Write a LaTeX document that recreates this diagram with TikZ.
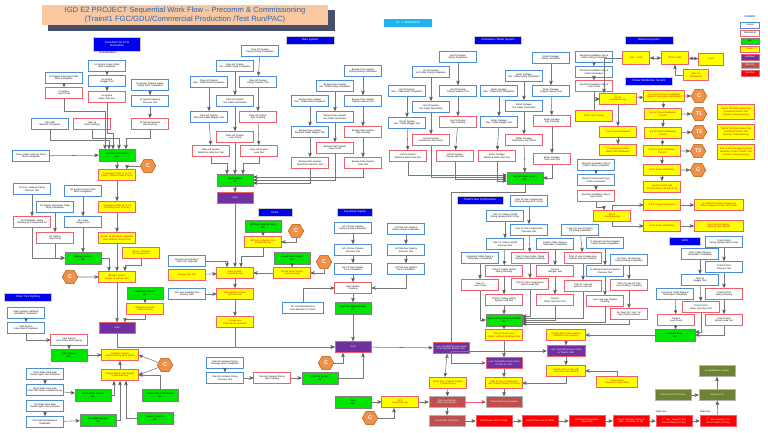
\documentclass[tikz,border=0pt]{standalone}
\usepackage{fontspec}
\setmainfont{Liberation Sans}
\usetikzlibrary{arrows,shapes.geometric}

\definecolor{bluline}{RGB}{79,140,210}
\definecolor{redline}{RGB}{236,96,110}
\definecolor{mcgreen}{RGB}{0,230,0}
\definecolor{commyel}{RGB}{255,255,0}
\definecolor{holdpur}{RGB}{112,48,160}
\definecolor{startbrn}{RGB}{192,80,77}
\definecolor{testred}{RGB}{255,0,0}
\definecolor{pacolv}{RGB}{110,130,50}
\definecolor{hdrblue}{RGB}{0,0,235}
\definecolor{hexorg}{RGB}{240,145,75}
\definecolor{titlepch}{RGB}{250,200,160}
\definecolor{titletxt}{RGB}{40,100,180}
\definecolor{shadowgy}{RGB}{70,80,110}
\definecolor{tscyan}{RGB}{30,180,240}
\definecolor{edgegray}{RGB}{120,120,120}

\tikzset{
  box/.style={rectangle, text width=35pt, align=center, inner sep=0.6pt,
    minimum height=11.5pt, font=\fontsize{2.3}{2.8}\selectfont},
  blu/.style={box, draw=bluline, line width=0.9pt, fill=white},
  rdb/.style={box, draw=redline, line width=0.9pt, fill=white},
  grn/.style={box, draw=gray, line width=0.5pt, fill=mcgreen},
  yel/.style={box, draw=redline, line width=0.9pt, fill=commyel, text=red!80!black},
  pur/.style={box, draw=redline, line width=0.6pt, fill=holdpur, text=white},
  brn/.style={box, draw=gray!60, line width=0.6pt, fill=startbrn, text=white},
  tst/.style={box, draw=redline, line width=0.6pt, fill=testred, text=white},
  olv/.style={box, draw=gray!60, line width=0.6pt, fill=pacolv, text=white},
  hdr/.style={rectangle, fill=hdrblue, draw=gray!40, text=white, minimum height=8pt,
    inner sep=0.5pt, font=\fontsize{2.8}{3.3}\selectfont, align=center},
  hx/.style={regular polygon, regular polygon sides=6, minimum size=15.5pt, inner sep=0pt,
    fill=hexorg, draw=orange!70!black, line width=0.5pt, text=white,
    font=\fontsize{5.5}{5.5}\selectfont\bfseries},
  cn/.style={->, draw=edgegray, line width=0.55pt},
  vh/.style={to path={|- (\tikztotarget) \tikztonodes}},
  hv/.style={to path={-| (\tikztotarget) \tikztonodes}},
  dn/.style={to path={-- ([yshift=-#1]\tikztostart.south) -| (\tikztotarget) \tikztonodes}},
  dn/.default=6pt,
}

\begin{document}
\begin{tikzpicture}[x=1pt,y=-1pt,>=stealth']
\useasboundingbox (0,0) rectangle (768,433);

% title
\fill[shadowgy] (48,10) rectangle (335,31);
\node[fill=titlepch, minimum width=286pt, minimum height=20pt, inner sep=0pt, text=titletxt,
  font=\fontsize{7.6}{9.4}\selectfont, align=center] (title) at (185,15)
  {IGD E2 PROJECT Sequential Work Flow -- Precomm \& Commissioning\\(Train\#1 FGC/GDU/Commercial Production /Test Run/PAC)};
\node[fill=tscyan, text=white, minimum width=48pt, minimum height=8pt, inner sep=0pt,
  font=\fontsize{2.8}{3.3}\selectfont] (tsSeq) at (408,23) {TS - 1 SEQUENCE};

% legend
\node[font=\fontsize{2.6}{3}\selectfont\bfseries, text=titletxt] (lgTitle) at (750,17) {LEGEND};
\node[blu, text width=17pt, minimum height=6pt] (lg1) at (750,25) {Control};
\node[rdb, text width=17pt, minimum height=6pt] (lg2) at (750,33) {Mechanical};
\node[grn, text width=17pt, minimum height=6pt] (lg3) at (750,41) {MC};
\node[yel, text width=17pt, minimum height=6pt] (lg4) at (750,49) {Comm.};
\node[pur, text width=17pt, minimum height=6pt] (lg5) at (750,57) {Activated};
\node[brn, text width=17pt, minimum height=6pt] (lg6) at (750,65) {Start-Up};
\node[tst, text width=17pt, minimum height=6pt] (lg7) at (750,73) {Test Run};

% instrument air & N2
\node[hdr, minimum width=47pt, minimum height=14pt] (iaHdr) at (117,44) {Instrument Air \& N2\\Generation};
\node[font=\fontsize{2.6}{3}\selectfont] (demob) at (108,53) {Demobilization};
\node[blu] (iaPwr) at (107,66) {IA System Power Cable\\Hook Completion};
\node[blu] (iaMeg) at (107,81) {IA System\\Megger Test};
\node[rdb] (iaSolo) at (107,97) {IA System\\Motor Solo Run};
\node[blu] (iaInst) at (64,78) {IA System Instrument Cable\\Work Completion};
\node[rdb] (iaLoop) at (64,93) {IA System\\Loop Check};
\node[blu] (iaNet) at (150,85) {IA System Network Piping\\Pickup Work Completion};
\node[blu] (iaPres) at (150,101) {IA System Network\\Pressure Test};
\node[rdb] (iaFlush) at (150,124) {IA System Network\\Line Flushing};
\node[blu] (n2Net) at (50,124) {Ultra N2N\\Network Completion};
\node[rdb] (lubeF) at (92,124) {Lube oil\\Flush Flushing};
\node[grn] (iaMC) at (117,155) {Instrument Air System\\MC};
\node[blu] (pcHook) at (31,156) {Power Cable Hook Up Dress\\Work Completion};
\node[hx] (hx1) at (148,166) {C};
\node[yel] (compA) at (117,175) {Compressor PKG (A, B, C)\\Comm. Without Clean \& Dryer};
\node[yel] (compB) at (117,207) {Compressor PKG (A, B, C)\\Test Run(Clean \& Dryer)};
\node[yel] (commIA) at (117,238) {Comm. IA Distributor Separator\\Auto Network Service Test};
\node[yel] (dryAir) at (141,253) {Comm. of Drying\\Air Compressor};
\node[blu] (n2Net2) at (32,189) {N2 Gen. Network Piping\\Pressure Test};
\node[blu] (n2Pwr) at (83,191) {N2 System Power Cable\\Work Completion};
\node[blu] (n2Inst) at (55,207) {N2 System Instrument Cable\\Work Completion};
\node[rdb] (n2Dist) at (32,222) {N2 Distribution Piping\\Cleaning by Compressed Air};
\node[blu] (n2Meg) at (83,222) {N2 Locals\\Megger Test};
\node[rdb] (n2Loop) at (55,238) {N2 System\\Loop Check};
\node[grn] (n2MC) at (83,258) {Nitrogen System\\MC};
\node[hx] (hx2) at (70,277) {C};
\node[yel] (n2Comm) at (117,277) {Nitrogen System\\Comm. \& Service Test};
\node[grn] (telMC) at (145,293) {Telephone System\\MC};
\node[yel] (telComm) at (145,309) {Telephone System\\Commissioning};
\node[pur] (hold1) at (117,328) {Hold};

% F&G / fire fighting
\node[hdr, minimum width=47pt] (fgHdr) at (28,297) {F\&G / Fire Fighting};
\node[blu] (fgInst) at (26,313) {Flash Systems (Without)\\Installation Completion};
\node[blu] (fgCable) at (26,328) {F\&G System\\Cable Work Completion};
\node[rdb] (fgLoop) at (69,340) {F\&G System\\Loop Check (Auto alarm)};
\node[grn] (fgMC) at (69,355) {F\&G System\\MC};
\node[yel] (fgComm) at (120,355) {Fire\&Gas System\\Commissioning (Auto alarm)};
\node[yel] (delComm) at (120,375) {Deluge Skid \& F\&G System\\Commissioning};
\node[hx] (hx3) at (165,365) {C};
\node[blu] (fwR1) at (45,374) {Fresh Water Ring Main\\Overall Hydro Test Complete};
\node[blu] (fwR2) at (45,390) {Fresh Water Ring Main\\Flow Test Valves Commissioning};
\node[blu] (fireR1) at (45,406) {Fire Water Ring Main\\Overall Hydro Test Complete};
\node[blu] (fireEq) at (45,422) {Fire Fighting Equipment\\Installation};
\node[grn] (fwMC) at (93,395) {Fresh Water System\\MC};
\node[grn] (fireMC) at (98,420) {Fire Water System\\MC};
\node[grn] (delMC) at (160,395) {Deluge Skid \& Distribution\\MC};
\node[grn] (halMC) at (155,418) {Halogen System\\MC};

% flare system
\node[hdr, minimum width=48pt] (flHdr) at (310,40) {Flare System};
\node[blu] (fhPipe) at (260,51) {Flare HP System\\Piping Hookup Completion};
\node[blu] (fhInstP) at (235,66) {Flare HP System\\Inst. Cable Piping Completion};
\node[blu] (fhElec) at (209,82) {Flare HP System\\Elec. Cable Work Completion};
\node[blu] (fhPres) at (258,82) {Flare HP System\\Piping Pressure Test};
\node[blu] (fhTerm) at (235,101) {Flare HP System\\Inst Cable Termination};
\node[blu] (fhMeg) at (209,117) {Flare HP System\\Electrical Cable Megger Test};
\node[rdb] (fhClean) at (258,117) {Flare HP System\\Pipe Cleaning};
\node[rdb] (fhLoop) at (235,137) {Flare HP System\\Loop Check};
\node[rdb] (fhSolo) at (211,151) {Flare HP System\\Motor/Fan Solo Run Test};
\node[rdb] (fhLeak) at (259,151) {Flare HP System\\Leak Test};
\node[blu] (bfPipe) at (363,71) {Backup Flare System\\Piping Hookup Completion};
\node[blu] (bfInstP) at (335,86) {Backup Flare System\\Inst. Cable Piping Completion};
\node[blu] (bfElec) at (310,101) {Backup Flare System\\Elec. Cable Work Completion};
\node[blu] (bfPres) at (363,101) {Backup Flare System\\Piping Pressure Test};
\node[blu] (bfTerm) at (335,117) {Backup Flare System\\Inst Cable Termination};
\node[blu] (bfMeg) at (310,132) {Backup Flare System\\Electrical Cable Megger Test};
\node[rdb] (bfClean) at (363,132) {Backup Flare System\\Pipe Cleaning};
\node[rdb] (bfLoop) at (335,148) {Backup Flare System\\Loop Check};
\node[rdb] (bfSolo) at (310,163) {Backup Flare System\\Motor/Fan Solo Run Test};
\node[rdb] (bfLeak) at (363,163) {Backup Flare System\\Leak Test};
\node[grn] (flMC) at (235,180) {Flare System\\MC};
\node[pur] (hold2) at (235,198) {Hold};

% drain, flare comm, feed gas
\node[hdr, minimum width=34pt] (drHdr) at (275,212) {Drain};
\node[grn] (adMC) at (263,226) {All Drain Collection Syst\\MC};
\node[hx] (hx4) at (296,231) {C};
\node[yel] (adComm) at (263,242) {All Drain Collection Syst\\Commissioning};
\node[grn] (cdMC) at (292,258) {Closed Drain System\\MC};
\node[hx] (hx5) at (324,262) {C};
\node[yel] (flComm) at (235,273) {Flare System\\Commissioning};
\node[yel] (cdComm) at (292,273) {Closed Drain System\\Commissioning};
\node[blu] (propRdy) at (187,261) {Propane Gas Ready to\\Flare PSV Required};
\node[yel] (stTool) at (187,275) {Storage Test Tool};
\node[blu] (fgAvail) at (187,294) {Fuel Gas Available from\\Existing Plant};
\node[yel] (ignit) at (235,294) {Flare Ignition/ Flaring\\by Flare Gas};
\node[yel] (chgOver) at (235,322) {Change over\\Flare Gas to Fuel Gas};
\node[hdr, minimum width=35pt] (fsHdr) at (355,212) {Feed Gas Supply};
\node[blu] (fgA1) at (353,228) {HP Lift Gas Pipeline\\Piping Hookup Completion};
\node[blu] (fgA2) at (353,250) {HP Lift Gas Pipeline\\Pressure Test};
\node[blu] (fgA3) at (353,269) {HP Lift Gas Pipeline\\Tie-in Completion};
\node[blu] (fgB1) at (406,229) {LP/Cold Gas Pipeline\\Piping Hookup Completion};
\node[blu] (fgB2) at (406,250) {LP/Cold Gas Pipeline\\Pressure Test};
\node[blu] (fgB3) at (406,269) {LP/Cold Gas Pipeline\\Tie-in Completion};
\node[rdb] (gasCln) at (353,288) {Gas Pipeline\\Cleaning};
\node[blu, text width=39pt] (coldBox) at (303,308) {HP Cold Box/Heat Gas\\from Absorber Air Plants};
\node[grn] (fuelMC) at (353,308) {Fuel Gas Supply System\\MC};
\node[pur] (hold3) at (353,347) {Hold};
\node[blu] (pa1) at (225,363) {Plant Air Network Piping\\Drainage Work Completion};
\node[blu] (pa2) at (225,378) {Plant Air Network Piping\\Pressure Test};
\node[rdb] (paCln) at (272,378) {Plant Air Network Piping\\Pipe Cleaning};
\node[grn] (paMC) at (320,378) {Plant Air System\\MC};
\node[hx] (hx6) at (326,363) {C};
\node[grn] (dcsMC) at (353,402) {DCS\\MC};
\node[hx] (hx7) at (370,418) {C};
\node[yel] (dcsComm) at (400,402) {DCS\\Commissioning};

% hot oil / boiler
\node[hdr, minimum width=47pt] (hbHdr) at (498,40) {Incinerator / Boiler System};
\node[blu] (hoPipe) at (458,57) {Hot Oil System\\Piping Completion};
\node[blu] (hoInst) at (431,72) {Hot Oil System\\Inst Cable Piping Completion};
\node[blu] (hoElec) at (407,91) {Hot Oil System\\Elec. Cable Work Completion};
\node[blu] (hoPres) at (458,91) {Hot Oil System\\Piping Pressure Test};
\node[blu] (hoTerm) at (431,107) {Hot Oil System\\Inst Cable Termination};
\node[blu] (hoMeg) at (407,123) {Hot Oil System\\Elec. Cable Megger Test};
\node[rdb] (hoCln) at (458,122) {Hot Oil System\\Pipe Cleaning};
\node[rdb] (hoLoop) at (431,140) {Hot Oil System\\Instrument Loop Check};
\node[rdb] (hoSolo) at (408,156) {Hot Oil System\\Electrical Motor Solo Run};
\node[rdb] (hoLeak) at (455,156) {Hot Oil System\\Piping Leak Test};
\node[blu] (bpPipe) at (551,58) {Boiler Package\\Piping Completion};
\node[blu] (bpInst) at (524,76) {Boiler Package\\Inst. Cable Piping Completion};
\node[blu] (bpElec) at (499,91) {Boiler Package\\Elec. Cable Work Completion};
\node[blu] (bpPres) at (551,91) {Boiler Package\\Piping Pressure Test};
\node[blu] (bpTerm) at (524,106) {Boiler Package\\Inst Cable Termination};
\node[blu] (bpMeg) at (499,122) {Boiler Package\\Elec. Cable Megger Test};
\node[rdb] (bpCln) at (552,121) {Boiler Package\\Pipe Cleaning};
\node[rdb] (bpLoop) at (524,140) {Boiler Package\\Instrument Loop Check};
\node[rdb] (bpSolo) at (497,156) {Boiler Package\\Electrical Motor Solo Run};
\node[rdb] (bpLeak) at (552,159) {Boiler Package\\Pipe Leak Test};
\node[grn] (hbMC) at (525,178) {Hot Oil/ Boiler System\\MC};

% train#1 gas compression
\node[hdr, minimum width=46pt] (gcHdr) at (480,200) {Train\#1 Gas Compression};
\node[blu] (tgHook) at (529,201) {Train \#1 Gas Compression\\Piping Hookup Work Comp.};
\node[blu] (tTurb) at (505,216) {Train \#1 Turbine (GHR)\\Piping Hookup Work Comp.};
\node[blu] (tgPres) at (529,230) {Train \#1 Gas Compression\\Pressure Test};
\node[blu] (tLubeP) at (580,230) {Train \#1 Lube Oil Piping\\Lift Piping Installation};
\node[blu] (tTurbP) at (505,244) {Train \#1 Turbine (GHR)\\Pressure Test};
\node[blu] (tCable) at (555,244) {Train\#1 Cable Piping \&\\Termination Completion};
\node[blu] (tInst) at (480,258) {Instrument Cable Piping \&\\Termination Completion};
\node[rdb] (tgCln) at (530,258) {Train \#1 Gas Comp. Piping\\System (Chemical) Cleaning};
\node[rdb] (tgFl) at (583,258) {Train \#1 Gas Compression\\System (Gas/Air) Flushing};
\node[rdb] (tTurbC) at (504,271) {Train\#1 Turbine (GHR)\\Piping Cleaning};
\node[rdb] (tN2) at (555,271) {Train\#1\\Nitrogen Test};
\node[rdb] (tLoop) at (480,285) {Train \#1\\Loop Check};
\node[rdb] (tgLeak) at (530,284) {Train \#1 Gas Compression\\System Leak Test};
\node[rdb] (tgLk2) at (583,286) {Train \#1 Lube Oil\\System Leak Test};
\node[rdb] (tTurbL) at (504,300) {Train\#1 Turbine (GHR)\\System Leak Test};
\node[rdb] (tSolo) at (555,300) {Train\#1\\Motor Solo Run Test};
\node[blu] (fgP1) at (605,243) {N. Natural Fuel Gas Pipeline\\Piping Hookup Completion};
\node[blu] (tankP) at (629,260) {N2 Tank / Air Receiver\\Piping Hookup Completion};
\node[blu] (fgP2) at (605,271) {N. Natural Fuel Gas Pipeline\\Pressure Test};
\node[rdb] (lubeFl) at (629,285) {Train \#1 Lube Oil Pipe\\Line Flushing / Cleaning};
\node[rdb] (fgFl) at (605,301) {Lean Fuel Gas Pipeline\\Flushing};
\node[rdb] (airFd) at (629,314) {Air Feed N2 / Instr. Air\\Pipe Piping Cleaning};
\node[grn] (fgcMC) at (504,320) {Train\#1 FGC Turbine and HRSG\\MC};
\node[yel] (tCool) at (504,335) {Train \#1 Gas Cooler\\Comm. without Fluid/Gas Flow};
\node[pur] (blower) at (451,348) {Lean Turn/Shift Process Fluid\\to Air System Blower Pack};
\node[pur] (fgcPur) at (504,363) {Lean Turn/Shift Process Fluid\\of Train \#1 FGC};
\node[yel] (boost) at (448,383) {Boost Fuel / Fuel Air System\\Commissioning};
\node[yel] (gtStart) at (504,383) {Train \#1 Gas Compression\\Gas Turbine Startup \& Testing};
\node[brn] (stInj) at (447,402) {Start-up Injection/\\Boiler Unit System};
\node[brn] (stOp) at (504,402) {Train\#1 Start-up Operation};

% GDU
\node[yel, text width=37pt] (gduCool) at (566,335) {Train\#1 GDU Cooler without\\Fluid/Gas Pipe cleaning};
\node[pur, text width=37pt] (gduPur) at (566,351) {Lean Turn/Shift Process Fluid\\to Train\#1 GDU};
\node[yel, text width=37pt] (gduComm) at (566,371) {Train\#1 GDU Comm with\\Lean Gas Flow Heating};
\node[yel, text width=39pt] (teg) at (617,382) {Train\#1 GDU\\Chemical (TEG) Filling};
\node[hdr, minimum width=31pt] (gduHdr) at (685,241) {GDU};
\node[blu] (gduHook) at (724,242) {Train\#1 GDU\\Piping Hookup Work Comp.};
\node[blu] (shortC) at (700,254) {Short Cable Piping \&\\Termination Completion};
\node[blu] (gduPres) at (724,267) {Train\#1 GDU\\Pressure Test};
\node[blu] (gduMeg) at (700,280) {Train \#1\\Megger Test};
\node[blu] (gduInst) at (675,294) {Instrument Cable Piping \&\\Termination Completion};
\node[rdb] (gduCln) at (724,294) {Train\#1 GDU\\Piping Cleaning};
\node[rdb] (gduSolo) at (701,307) {Train\#1 GDU\\Motor Solo Run Test};
\node[rdb] (gduLoop) at (676,320) {Train\#1\\Loop Check};
\node[rdb] (gduLeak) at (724,320) {Train\#1 GDU\\System Leak Test};
\node[grn, text width=39pt] (gduMC) at (675,335) {Train\#1 GDU\\MC};

% commercial production / test run / PAC
\node[brn] (comProd) at (447,421) {Commercial Production};
\node[tst] (perf) at (494,421) {Performance Test of Utility};
\node[tst] (second) at (540,421) {Second Time Run of Plants};
\node[tst] (chem) at (587,421) {Chemical Consumption\\Measuring};
\node[tst] (overall) at (631,421) {Overall Test Run of Plants\\(Max. Turndown To Nil)};
\node[tst] (max1) at (674,421) {1\textsuperscript{st} Max. Capacity Test\\Run of Plants (72 Hrs)};
\node[tst] (max2) at (718,421) {2\textsuperscript{nd} Max Capacity Test\\Run of Plants (72 Hrs)};
\node[font=\fontsize{2.3}{2.8}\selectfont] (trd1) at (661,412) {Trade Run};
\node[font=\fontsize{2.3}{2.8}\selectfont] (trd2) at (705,412) {Trade Run};
\node[olv] (grp) at (673,395) {GRP/Fuel \& SCC/Diesel};
\node[olv] (jpac) at (717,395) {Jointure PAC};
\node[olv] (exMach) at (717,371) {De-Mobilization System};

% electrical
\node[hdr, minimum width=48pt] (elHdr) at (649,40) {Electrical System};
\node[blu] (el1) at (594,57) {Electrical Installation Pkg \&\\Cable Pulling Completion};
\node[blu] (el2) at (594,72) {Electrical Installation Pkg \&\\Cable Termination};
\node[rdb] (el3) at (594,86) {Electrical Installation Pkg \&\\Loop Check};
\node[yel, text width=26pt, minimum height=13pt] (ups) at (636,58) {UPS - 0.4kV};
\node[yel, text width=26pt, minimum height=13pt] (tran) at (675,58) {TRAN. 6.6kV};
\node[yel, text width=24pt, minimum height=12pt] (load) at (711,59) {Load};
\node[yel, text width=23pt] (mainTx) at (696,75) {Main Trx\\Transformer};
\node[hdr, minimum width=47pt] (pdHdr) at (649,81) {Power Distribution System};
\node[yel] (mcc) at (618,99) {SE-T1\\Commissioning};
\node[yel, text width=39pt] (lvEm) at (664,96) {LV \& 6.6 kV Power Distribution\\Station \& Emergency Switchgear};
\node[hx] (hxC8) at (699,96) {C};
\node[yel] (pd1) at (663,114) {6.6 kV Power Distribution\\Train\#1};
\node[hx] (hxT1) at (699,114) {T1};
\node[yel] (pd2) at (663,133) {6.6 kV Power Distribution\\Train\#2};
\node[hx] (hxT2) at (699,132) {T2};
\node[yel] (pd3) at (662,151) {6.6 kV Power Distribution\\Train\#3};
\node[hx] (hxT3) at (698,151) {T3};
\node[yel] (lvlv) at (662,170) {LV/LV Power Distribution};
\node[hx] (hxC9) at (698,170) {C};
\node[yel] (inv) at (662,187) {Inverter \& UPS with\\50 KVA 60Hz 4 FE-04 L4-18};
\node[yel] (fireUps) at (594,116) {FIRE / UPS Ready};
\node[yel] (kv1) at (618,132) {1 kV Power Distribution};
\node[yel] (lvComp) at (618,150) {LV Compressor Room\\HVAC Sub Distribution};
\node[yel, minimum height=15pt] (dyn1) at (736,112) {Train\#1 FGC/GDU Heat Train\\Operation/Function Test\\Dynamic Commissioning};
\node[yel, minimum height=15pt] (dyn2) at (736,132) {Train\#2 FGC/GDU Heat Train\\Operation/Function Test\\Dynamic Commissioning};
\node[yel, minimum height=15pt] (dyn3) at (736,152) {DCS \& UPS Emergency Diesel\\Generator Power Transfer Test\\Dynamic Commissioning};
\node[blu] (elB1) at (596,165) {Electrical Installation Pkg \&\\Cable Pulling Completion};
\node[blu] (elB2) at (596,180) {Electrical Instrument Pkg \&\\Cable Termination};
\node[rdb] (elB3) at (596,196) {Electrical Installation Pkg \&\\Loop Check};
\node[yel] (se01) at (612,216) {SE-01\\Commissioning};
\node[yel] (pd66) at (662,205) {6.6 kV Power Distribution};
\node[yel, text width=48pt] (motC) at (719,205) {N. TRAIN MV Motor Compressor\\Motor Compressor with Soft Starter};
\node[yel] (lv01) at (662,226) {LV-01 Power Distribution};
\node[yel, text width=48pt] (blowr) at (719,226) {Gas Plant Air Blower /\\Back-up Plant Blower};

\coordinate (hbTurn) at (451,192);

% connectors: instrument air & N2
\path[cn] (iaPwr) edge (iaMeg) (iaMeg) edge (iaSolo)
  (iaInst) edge (iaLoop) (iaNet) edge (iaPres) (iaPres) edge (iaFlush)
  (iaLoop) edge[dn=12pt] ([xshift=-12pt]iaMC.north)
  (n2Net) edge[dn=10pt] ([xshift=-8pt]iaMC.north)
  (iaSolo) edge[dn=30pt] ([xshift=-4pt]iaMC.north)
  (lubeF) edge[dn=8pt] ([xshift=2pt]iaMC.north)
  (iaFlush) edge[dn=8pt] ([xshift=9pt]iaMC.north)
  (pcHook) edge (iaMC)
  (iaMC) edge (compA) (compA) edge (compB) (compB) edge (commIA) (commIA) edge (n2Comm)
  (hx1) edge[hv] ([xshift=10pt]compA.north)
  (dryAir) edge[dn=6pt] ([xshift=8pt]n2Comm.north)
  (n2Net2) edge (n2Dist) (n2Pwr) edge (n2Meg) (n2Meg) edge (n2MC) (n2Inst) edge (n2Loop)
  (n2Dist) edge[vh] (n2MC) (n2Loop) edge[vh] (n2MC)
  (n2MC) edge[hv] ([xshift=-8pt]n2Comm.north)
  (hx2) edge (n2Comm) (n2Comm) edge (hold1)
  (telMC) edge (telComm) (telComm) edge[dn=4pt] ([xshift=8pt]hold1.north)
  (hold1) edge[vh] (hold3.west);

% connectors: F&G and fire water
\path[cn] (fgInst) edge (fgCable) (fgCable) edge[vh] (fgLoop)
  (fgLoop) edge (fgMC) (fgMC) edge (fgComm) (delComm) edge (fgComm)
  (hx3) edge (fgComm.east) (hx3) edge (delComm.east)
  (fwR1) edge (fwR2) (fwR2) edge (fwMC) (fireR1) edge (fireEq) (fireEq) edge (fireMC)
  (fwMC) edge[hv] ([xshift=-6pt]delComm.south)
  (fireMC) edge[hv] ([xshift=0pt]delComm.south)
  (delMC) edge[vh] (delComm.east)
  (halMC) edge[hv] ([xshift=6pt]delComm.south);

% connectors: flare, drain, feed gas, plant air
\path[cn] (fhPipe) edge (fhPres) (fhPres) edge (fhClean) (fhClean) edge (fhLeak)
  (fhInstP) edge (fhTerm) (fhTerm) edge (fhLoop) (fhLoop) edge (flMC)
  (fhElec) edge (fhMeg) (fhMeg) edge (fhSolo)
  (fhSolo) edge[dn=6pt] ([xshift=-8pt]flMC.north) (fhLeak) edge[dn=6pt] ([xshift=8pt]flMC.north)
  (bfPipe) edge (bfPres) (bfPres) edge (bfClean) (bfClean) edge (bfLeak)
  (bfInstP) edge (bfTerm) (bfTerm) edge (bfLoop)
  (bfElec) edge (bfMeg) (bfMeg) edge (bfSolo)
  (bfSolo) edge[vh] ([yshift=-3pt]flMC.east) (bfLoop) edge[vh] ([yshift=0pt]flMC.east)
  (bfLeak) edge[vh] ([yshift=3pt]flMC.east)
  (flMC) edge (hold2) (hold2) edge (flComm) (flComm) edge (ignit) (ignit) edge (chgOver)
  (chgOver) edge[vh] (hold3.west)
  (adMC) edge (adComm) (adComm) edge[dn=8pt] ([xshift=6pt]flComm.north)
  (hx4) edge[vh] (adComm.east)
  (cdMC) edge (cdComm) (cdComm) edge (flComm) (hx5) edge[vh] (cdComm.east)
  (propRdy) edge[hv] ([xshift=-8pt]flComm.north) (stTool) edge (flComm)
  (fgAvail) edge (ignit)
  (fgA1) edge (fgA2) (fgA2) edge (fgA3) (fgA3) edge (gasCln) (gasCln) edge (fuelMC) (fuelMC) edge (hold3)
  (fgB1) edge (fgB2) (fgB2) edge (fgB3) (fgB3) edge[vh] (gasCln.east)
  (coldBox) edge[vh] (gasCln.west)
  (pa1) edge (pa2) (pa2) edge (paCln) (paCln) edge (paMC)
  (paMC) edge[hv] ([xshift=10pt]hold3.south) (hx6) edge[hv] ([xshift=-10pt]hold3.south)
  (dcsMC) edge (dcsComm) (hx7) edge[hv] ([xshift=-6pt]dcsComm.south)
  (dcsComm) edge (stInj)
  (hold3) edge (blower);

% connectors: hot oil / boiler
\path[cn] (hoPipe) edge (hoPres) (hoPres) edge (hoCln) (hoCln) edge (hoLeak)
  (hoInst) edge (hoTerm) (hoTerm) edge (hoLoop)
  (hoElec) edge (hoMeg) (hoMeg) edge (hoSolo)
  (bpPipe) edge (bpPres) (bpPres) edge (bpCln) (bpCln) edge (bpLeak)
  (bpInst) edge (bpTerm) (bpTerm) edge (bpLoop) (bpLoop) edge (hbMC)
  (bpElec) edge (bpMeg) (bpMeg) edge (bpSolo)
  (hoSolo) edge[vh] ([yshift=3pt]hbMC.west) (hoLoop) edge[vh] ([yshift=1pt]hbMC.west)
  (hoLeak) edge[vh] ([yshift=-1pt]hbMC.west) (bpSolo) edge[vh] ([yshift=-3pt]hbMC.west)
  (bpLeak) edge[vh] (hbMC.east);
\draw[cn, -] (hbMC) |- (hbTurn) -- (hbTurn |- blower.north);
\draw[cn] (blower.south -| hbTurn) |- (fgcPur);

% connectors: train#1 gas compression and GDU
\path[cn] (tgHook) edge (tgPres) (tgPres) edge (tgCln) (tgCln) edge (tgLeak)
  (tTurb) edge (tTurbP) (tTurbP) edge (tTurbC) (tTurbC) edge (tTurbL) (tTurbL) edge (fgcMC)
  (tInst) edge (tLoop) (tLoop) edge[vh] (fgcMC.west)
  (tgLeak) edge[vh] ([yshift=4pt]fgcMC.east)
  (tLubeP) edge (tgFl) (tgFl) edge (tgLk2) (tgLk2) edge[vh] ([yshift=2pt]fgcMC.east)
  (tCable) edge (tN2) (tN2) edge (tSolo) (tSolo) edge[vh] ([yshift=0pt]fgcMC.east)
  (fgP1) edge (fgP2) (fgP2) edge (fgFl) (fgFl) edge[vh] ([yshift=-2pt]fgcMC.east)
  (tankP) edge (lubeFl) (lubeFl) edge (airFd) (airFd) edge[vh] ([yshift=-4pt]fgcMC.east)
  (fgcMC) edge (tCool) (tCool) edge (fgcPur) (fgcPur) edge (gtStart) (gtStart) edge (stOp)
  (blower) edge[vh] (gduPur.west)
  ([xshift=-4pt]blower.south) edge ([xshift=-3pt]boost.north) (boost) edge (stInj)
  (gduHook) edge (gduPres) (gduPres) edge (gduCln) (gduCln) edge (gduLeak) (gduLeak) edge[vh] (gduMC.east)
  (shortC) edge (gduMeg) (gduMeg) edge (gduSolo) (gduSolo) edge[vh] ([yshift=3pt]gduMC.east)
  (gduInst) edge (gduLoop) (gduLoop) edge (gduMC)
  (gduMC) edge (gduCool) (gduCool) edge (gduPur) (gduPur) edge (gduComm)
  (gduComm) edge[vh] (gtStart.east) (teg) edge[vh] (gduComm.east);
\path[cn, draw=redline] (stInj) edge (stOp);

% connectors: commercial production / test run / PAC
\path[cn] (stInj) edge (comProd) (comProd) edge (perf) (perf) edge (second) (second) edge (chem)
  (chem) edge (overall) (overall) edge (max1) (max1) edge (max2) (max2) edge (jpac)
  (grp) edge (jpac) (jpac) edge (exMach);

% connectors: electrical
\path[cn] (el1) edge (el2) (el2) edge (el3) (el3) edge[vh] (mcc.west) (fireUps) edge[vh] (mcc.west)
  (ups) edge[<->] (tran) (tran) edge[<->] (load) (mainTx) edge[hv] (tran.south)
  (ups) edge[hv] ([xshift=-14pt]mcc.north)
  (mcc) edge (lvEm) (lvEm) edge (hxC8) (lvEm) edge (pd1)
  (pd1) edge (hxT1) (pd1) edge (pd2) (pd2) edge (hxT2) (pd2) edge (pd3) (pd3) edge (hxT3)
  (pd3) edge (lvlv) (lvlv) edge (hxC9) (lvlv) edge (inv)
  (mcc) edge (kv1) (kv1) edge (lvComp)
  (elB1) edge (elB2) (elB2) edge (elB3) (elB3) edge[dn=5pt] ([xshift=-8pt]se01.north)
  (se01) edge[vh] (pd66.west) (se01) edge[vh] (lv01.west)
  (pd66) edge (motC) (lv01) edge (blowr);
\end{tikzpicture}
\end{document}
